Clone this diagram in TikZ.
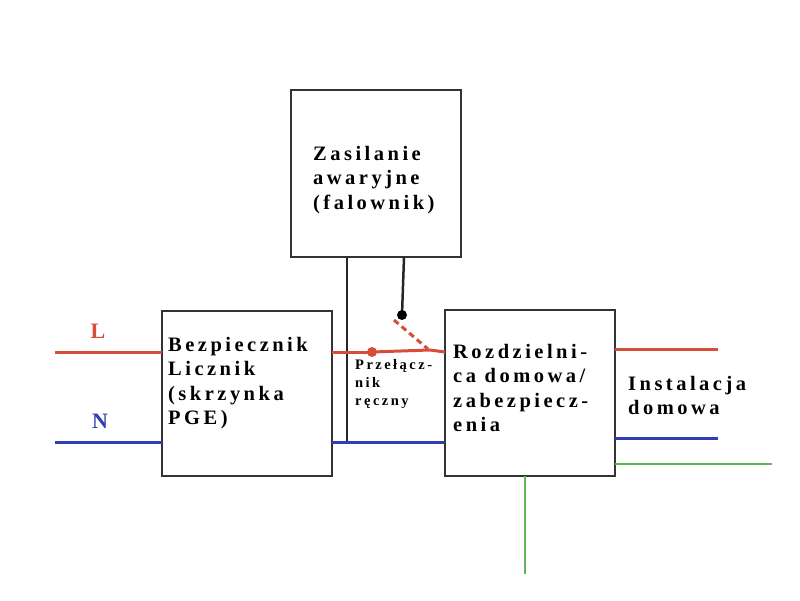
\documentclass[tikz,border=0pt]{standalone}
\usepackage{fontspec}
\setmainfont{Liberation Serif}[LetterSpace=17]
\usepackage{xcolor}
\definecolor{lred}{RGB}{214,78,58}
\definecolor{nblue}{RGB}{50,60,180}
\definecolor{pegreen}{RGB}{100,180,90}
\begin{document}
\begin{tikzpicture}[x=1pt,y=1pt,yscale=-1,
  box/.style={draw=black!80,line width=1.5pt},
  lbl/.style={anchor=north west,inner sep=0pt,align=left,font=\fontsize{20.5}{24.5}\selectfont\bfseries},
  phase/.style={lred,line width=3pt},
  neutral/.style={nblue,line width=3pt},
  earth/.style={pegreen,line width=2pt},
  wire/.style={black!85,line width=2.5pt}]
\useasboundingbox (0,0) rectangle (800,600);

%Boxes
\draw[box] (291,90) rectangle (461,257);
\draw[box] (162,311) rectangle (332,476);
\draw[box] (445,310) rectangle (615,476);

%Lines L and N in
\draw[phase] (55,352) -- (162,352);
\draw[neutral] (55,442) -- (162,442);
\node[lred,font=\fontsize{22}{22}\selectfont\bfseries] (lL) at (98,331) {L};
\node[nblue,font=\fontsize{22}{22}\selectfont\bfseries] (lN) at (100,421) {N};

%Generator feeds
\draw[wire] (347,257) -- (347,442);
\draw[wire] (404,257) -- (402,315);
\fill (402,315) circle (5);
\draw[neutral] (332,442) -- (445,442);

%Manual switch
\draw[phase] (332,352) -- (372,352);
\fill[lred] (372,352) circle (5);
\draw[phase] (372,352) -- (430,350) -- (445,352);
\draw[phase,dashed,dash pattern=on 6pt off 4pt] (394,320) -- (428,349);

%Outputs
\draw[phase] (615,349) -- (718,349);
\draw[neutral] (615,438) -- (718,438);
\draw[earth] (615,464) -- (772,464);
\draw[earth] (525,476) -- (525,574);

% Text
\node[lbl] (tgen) at (313,146) {Zasilanie\\awaryjne\\(falownik)};
\node[lbl] (tmeter) at (168,337) {Bezpiecznik\\Licznik\\(skrzynka\\PGE)};
\node[lbl] (tboard) at (453,344) {Rozdzielni-\\ca domowa/\\zabezpiecz-\\enia};
\node[lbl] (thome) at (628,376) {Instalacja\\domowa};
\node[lbl,font=\fontsize{14.5}{18}\selectfont\bfseries] (tsw) at (355,359) {Przełącz-\\nik\\ręczny};
\end{tikzpicture}
\end{document}
